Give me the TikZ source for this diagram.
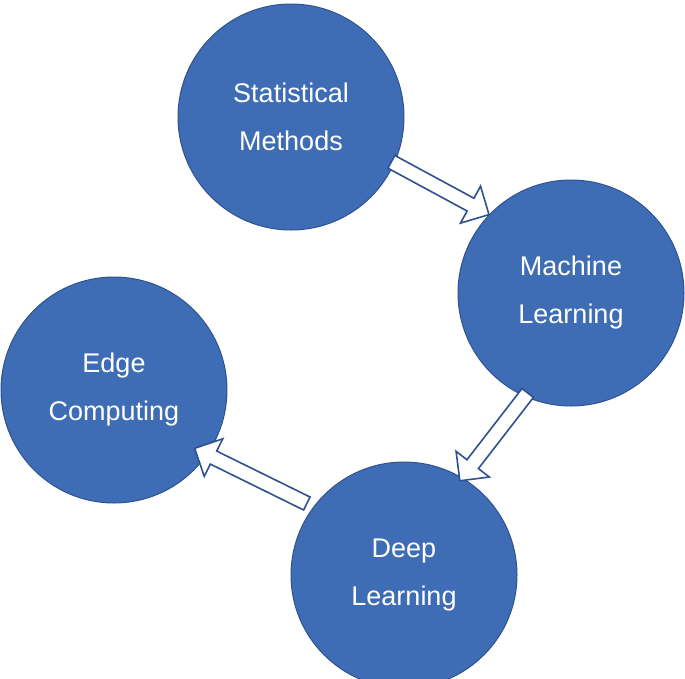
\documentclass[tikz,border=0pt]{standalone}
\usepackage{fontspec}
\setmainfont{Liberation Sans}
\usetikzlibrary{shapes.arrows}
\definecolor{cfill}{HTML}{3E6DB5}
\definecolor{cline}{HTML}{2F528F}
\begin{document}
\begin{tikzpicture}[x=1pt,y=-1pt,
  bub/.style={circle,fill=cfill,draw=cline,line width=1pt,minimum size=226pt,inner sep=0pt,text=white,align=center,font=\fontsize{27}{48}\selectfont},
  blk/.style={single arrow,draw=cline,fill=white,line width=1.6pt,minimum width=42pt,single arrow head extend=11pt,single arrow head indent=0pt,inner sep=5pt}]
\useasboundingbox (0,0) rectangle (685,678);
\node[bub] (sm) at (291,117) {Statistical\\Methods};
\node[bub] (ml) at (571,293) {Machine\\Learning};
\node[bub] (ec) at (114,390) {Edge\\Computing};
\node[bub] (dl) at (404,575) {Deep\\Learning};
\node[blk,minimum height=111pt,rotate=-28.4] (a1) at (437,186.5) {};
\node[blk,minimum height=111pt,rotate=-127.7] (a2) at (496,434) {};
\node[blk,minimum height=125pt,rotate=153.8] (a3) at (254,477.5) {};
\end{tikzpicture}
\end{document}
